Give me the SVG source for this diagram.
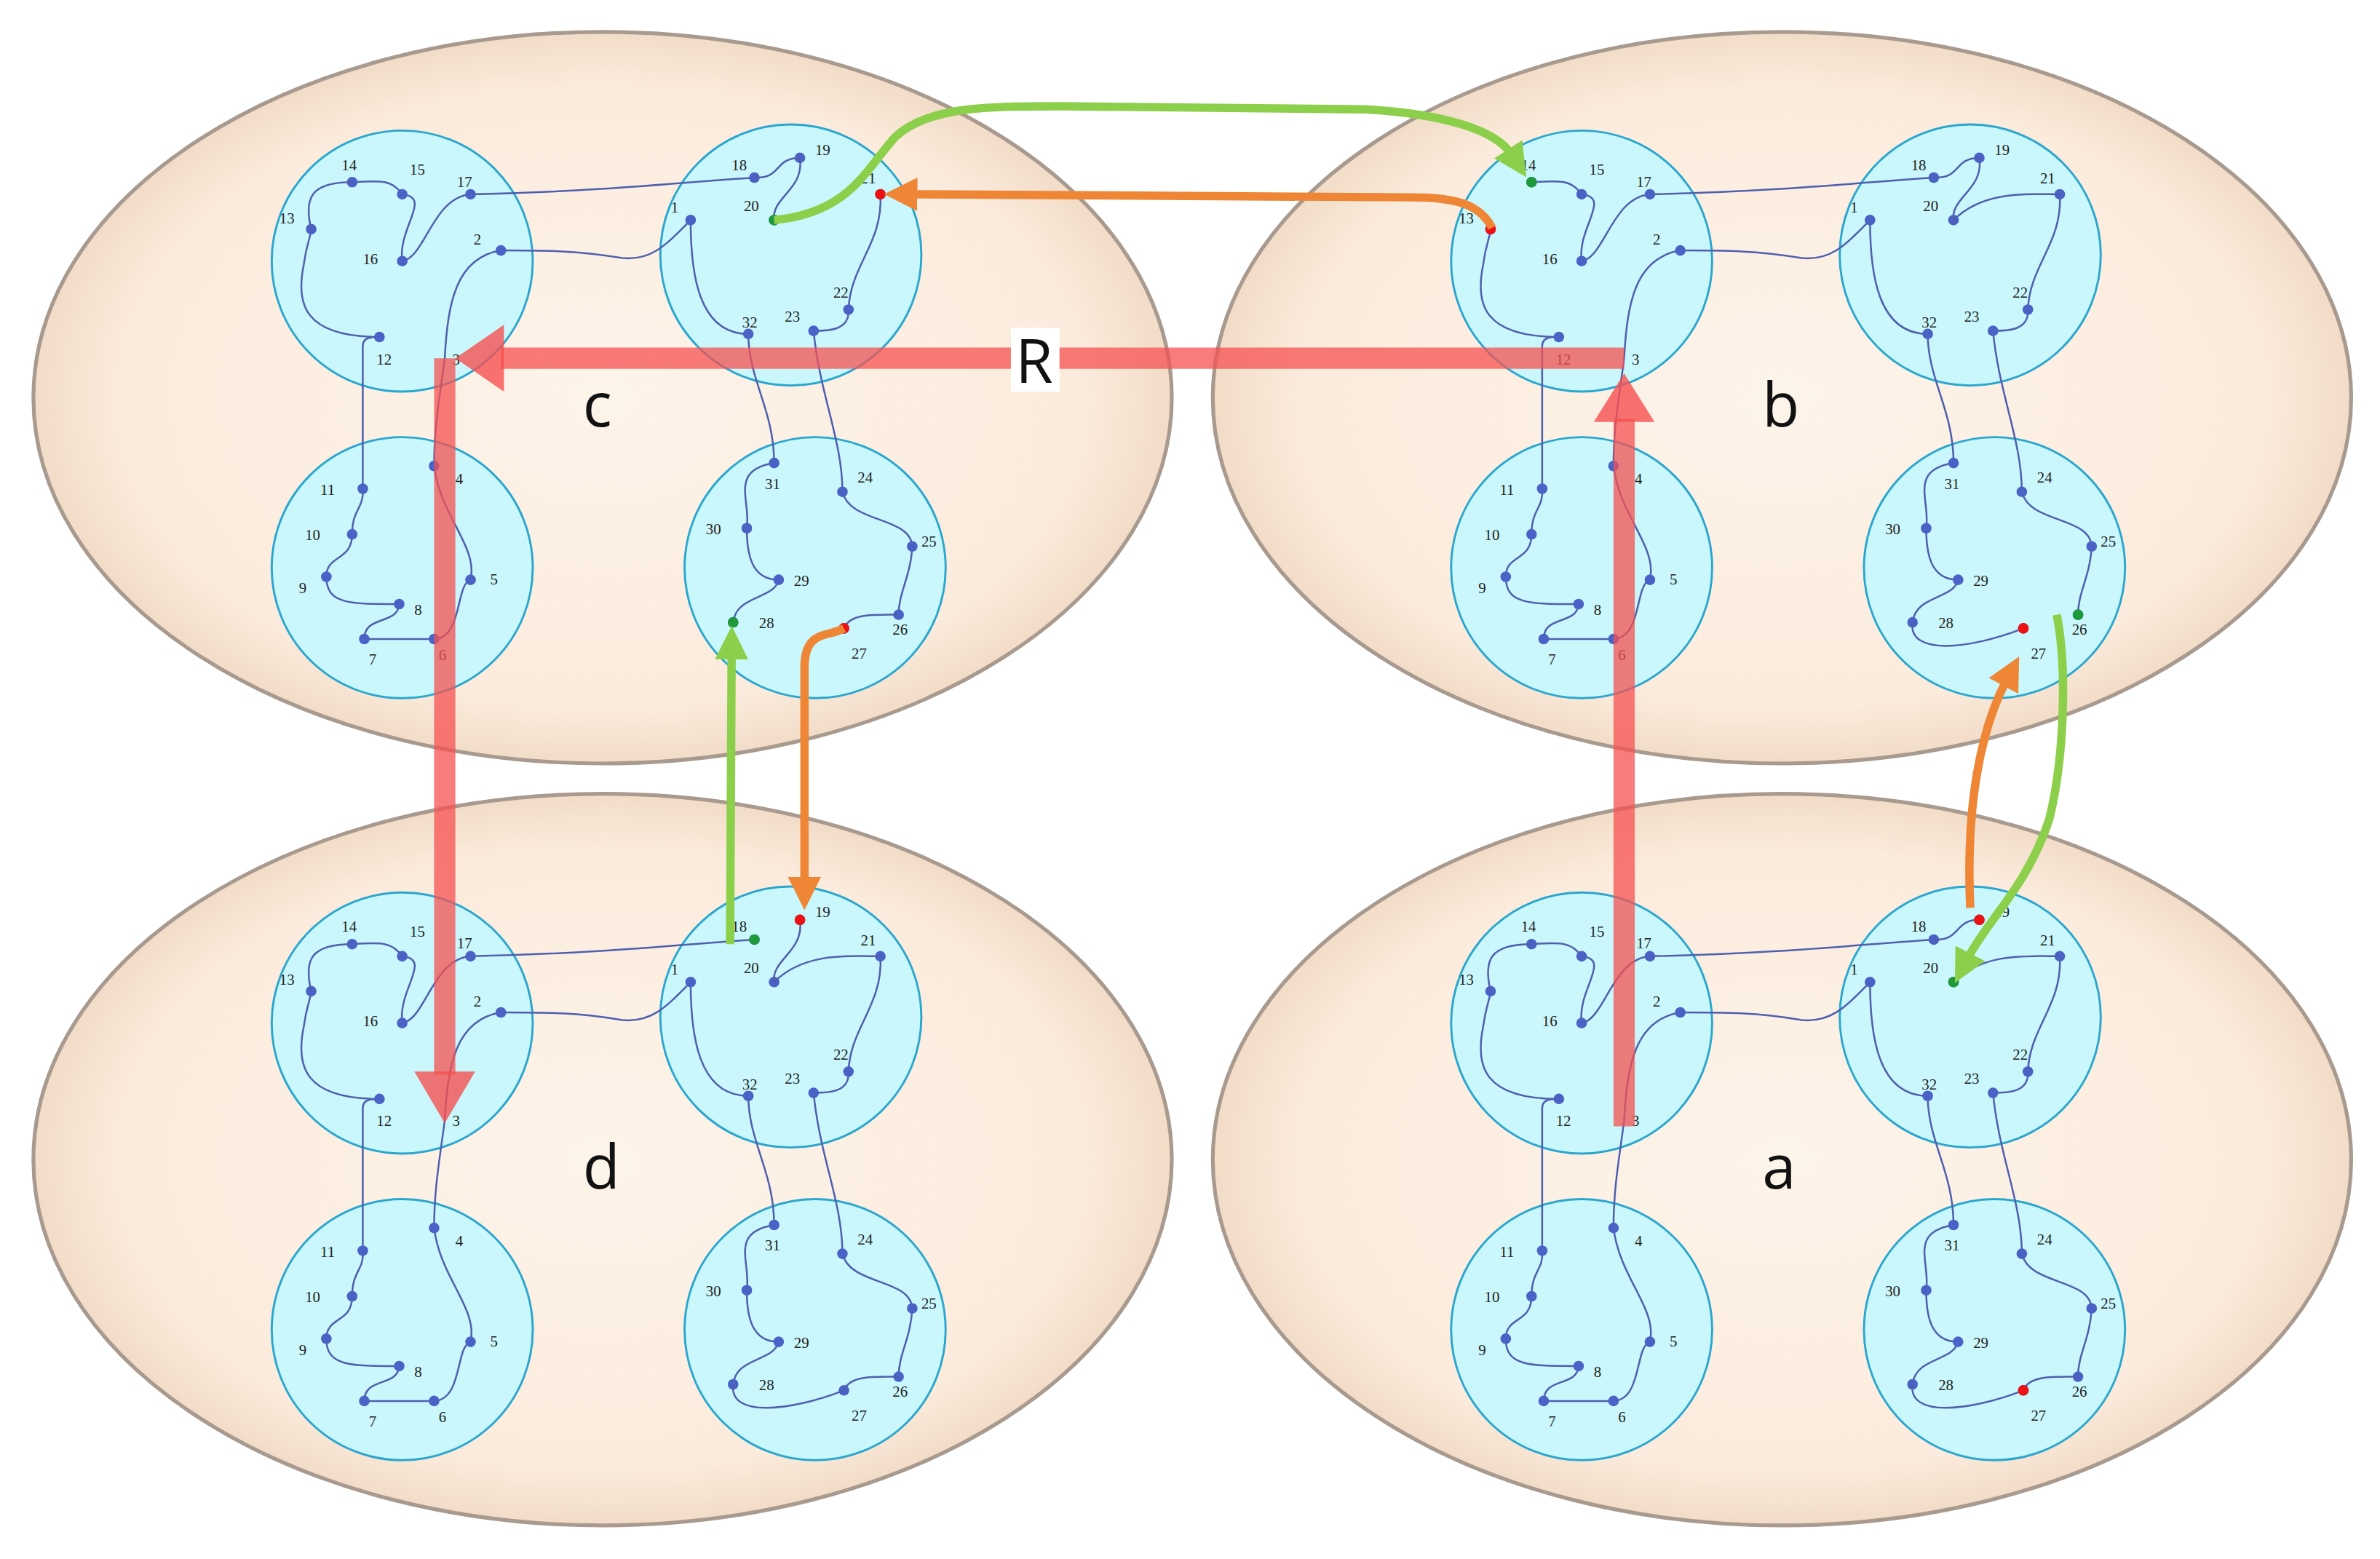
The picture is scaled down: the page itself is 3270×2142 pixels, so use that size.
<svg xmlns="http://www.w3.org/2000/svg" xmlns:xlink="http://www.w3.org/1999/xlink" width="3270" height="2142" viewBox="0 0 3270 2142">
<style>
.ell{fill:url(#eg);stroke:#a89a8e;stroke-width:2.5}
.cir{fill:#c9f7fc;stroke:#2ba6cf;stroke-width:1.4}
.lk{fill:none;stroke:#4f5fae;stroke-width:1.2}
.dot{fill:#4a62c6}
.g{fill:#1f9a3a}.r{fill:#ee1111}
.nl{font-family:"Liberation Serif",serif;font-size:10px;fill:#222}
.ql{font-family:"Open Sans","DejaVu Sans",sans-serif;font-size:40px;fill:#111}
.ga{fill:none;stroke:#8ccf4a;stroke-width:5.5}
.oa{fill:none;stroke:#ee8636;stroke-width:5.5}
.ra{fill:none;stroke:#f65050;stroke-width:14;stroke-opacity:0.75}
</style>
<defs>
<radialGradient id="eg" cx="0.5" cy="0.5" r="0.5">
<stop offset="0" stop-color="#fdf4ea"/><stop offset="0.85" stop-color="#fbebdc"/><stop offset="1" stop-color="#f2dcc8"/>
</radialGradient>
<g id="base">
<ellipse class="ell" cx="397" cy="262" rx="375" ry="241"/>
<circle class="cir" cx="265" cy="172" r="86"/><circle class="cir" cx="521" cy="168" r="86"/>
<circle class="cir" cx="265" cy="374" r="86"/><circle class="cir" cx="537" cy="374" r="86"/>
<g class="lk">
<path d="M232,120 C250,119 258,118 265,128"/>
<path d="M265,128 C285,130 262,150 265,172"/>
<path d="M265,172 C280,170 285,130 310,128"/>
<path d="M310,128 C400,126 450,120 497,117"/>
<path d="M580,128 C582,160 560,175 559,204"/>
<path d="M559,204 C560,218 545,218 536,218"/>
<path d="M536,218 C540,260 555,290 555,324"/>
<path d="M555,324 C560,345 600,340 601,360"/>
<path d="M601,360 C600,380 592,390 592,405"/>
<path d="M483,410 C485,392 510,395 513,382"/>
<path d="M513,382 C495,382 492,365 492,348"/>
<path d="M492,348 C495,330 480,310 510,305"/>
<path d="M510,305 C510,270 493,250 493,220"/>
<path d="M493,220 C460,220 455,180 455,145"/>
<path d="M455,145 C440,160 430,172 410,170 C380,165 360,165 330,165"/>
<path d="M330,165 C300,170 295,200 293,236"/>
<path d="M293,236 C290,260 286,280 286,307"/>
<path d="M286,307 C290,340 315,360 310,382"/>
<path d="M310,382 C300,385 305,420 286,421"/>
<path d="M286,421 L240,421"/>
<path d="M240,421 C240,405 262,412 263,398"/>
<path d="M263,398 C230,398 215,398 215,380"/>
<path d="M215,380 C215,365 232,370 232,352"/>
<path d="M232,352 C232,335 240,335 239,322"/>
<path d="M239,322 L239,228 C239,222 245,222 250,222"/>
<path d="M250,222 C200,222 195,200 200,175 C202,160 205,155 205,151"/>
</g>
<g class="dot">
<circle cx="455" cy="145" r="3.5"/><circle cx="330" cy="165" r="3.5"/><circle cx="286" cy="307" r="3.5"/><circle cx="310" cy="382" r="3.5"/><circle cx="286" cy="421" r="3.5"/><circle cx="240" cy="421" r="3.5"/><circle cx="263" cy="398" r="3.5"/><circle cx="215" cy="380" r="3.5"/><circle cx="232" cy="352" r="3.5"/><circle cx="239" cy="322" r="3.5"/><circle cx="250" cy="222" r="3.5"/><circle cx="205" cy="151" r="3.5"/><circle cx="232" cy="120" r="3.5"/><circle cx="265" cy="128" r="3.5"/><circle cx="265" cy="172" r="3.5"/><circle cx="310" cy="128" r="3.5"/><circle cx="497" cy="117" r="3.5"/><circle cx="527" cy="104" r="3.5"/><circle cx="510" cy="145" r="3.5"/><circle cx="580" cy="128" r="3.5"/><circle cx="559" cy="204" r="3.5"/><circle cx="536" cy="218" r="3.5"/><circle cx="555" cy="324" r="3.5"/><circle cx="601" cy="360" r="3.5"/><circle cx="592" cy="405" r="3.5"/><circle cx="556" cy="414" r="3.5"/><circle cx="483" cy="410" r="3.5"/><circle cx="513" cy="382" r="3.5"/><circle cx="492" cy="348" r="3.5"/><circle cx="510" cy="305" r="3.5"/><circle cx="493" cy="220" r="3.5"/>
</g>
<g class="nl">
<text x="442" y="140">1</text><text x="312" y="161">2</text><text x="298" y="240">3</text><text x="300" y="319">4</text><text x="323" y="385">5</text><text x="289" y="435">6</text><text x="243" y="438">7</text><text x="273" y="405">8</text><text x="197" y="391">9</text><text x="201" y="356">10</text><text x="211" y="326">11</text><text x="248" y="240">12</text><text x="184" y="147">13</text><text x="225" y="112">14</text><text x="270" y="115">15</text><text x="239" y="174">16</text><text x="301" y="123">17</text><text x="482" y="112">18</text><text x="537" y="102">19</text><text x="490" y="139">20</text><text x="567" y="121">21</text><text x="549" y="196">22</text><text x="517" y="212">23</text><text x="489" y="216">32</text><text x="565" y="318">24</text><text x="607" y="360">25</text><text x="588" y="418">26</text><text x="561" y="434">27</text><text x="500" y="414">28</text><text x="523" y="386">29</text><text x="465" y="352">30</text><text x="504" y="322">31</text>
</g>
</g>
<marker id="mg" viewBox="0 0 10 10" refX="2" refY="5" markerWidth="4" markerHeight="4" orient="auto"><path d="M0,0 L10,5 L0,10 z" fill="#8ccf4a"/></marker>
<marker id="mo" viewBox="0 0 10 10" refX="2" refY="5" markerWidth="4" markerHeight="4" orient="auto"><path d="M0,0 L10,5 L0,10 z" fill="#ee8636"/></marker>
</defs>
<rect width="3270" height="2142" fill="#ffffff"/>
<g transform="scale(2.0855)">
<g id="quad-c">
<use xlink:href="#base"/>
<g class="lk"><path d="M205,151 C200,130 205,120 232,120"/><path d="M497,117 C515,118 510,104 527,104"/><path d="M527,104 C530,125 508,130 510,145"/><path d="M592,405 C575,405 560,404 556,414"/></g>
<circle class="g" cx="510" cy="145" r="3.5"/><circle class="r" cx="580" cy="128" r="3.5"/><circle class="g" cx="483" cy="410" r="3.5"/><circle class="r" cx="556" cy="414" r="3.5"/>
<text class="ql" x="384" y="281">c</text>
</g>
<g id="quad-b" transform="translate(777,0)">
<use xlink:href="#base"/>
<g class="lk"><path d="M497,117 C515,118 510,104 527,104"/><path d="M527,104 C530,125 508,130 510,145"/><path d="M510,145 C530,125 560,128 580,128"/><path d="M483,410 C480,432 520,428 556,414"/></g>
<circle class="g" cx="232" cy="120" r="3.5"/><circle class="r" cx="205" cy="151" r="3.5"/><circle class="g" cx="592" cy="405" r="3.5"/><circle class="r" cx="556" cy="414" r="3.5"/>
<text class="ql" x="384" y="281">b</text>
</g>
<g id="quad-d" transform="translate(0,502)">
<use xlink:href="#base"/>
<g class="lk"><path d="M205,151 C200,130 205,120 232,120"/><path d="M527,104 C530,125 508,130 510,145"/><path d="M510,145 C530,125 560,128 580,128"/><path d="M483,410 C480,432 520,428 556,414"/><path d="M592,405 C575,405 560,404 556,414"/></g>
<circle class="g" cx="497" cy="117" r="3.5"/><circle class="r" cx="527" cy="104" r="3.5"/>
<text class="ql" x="384" y="281">d</text>
</g>
<g id="quad-a" transform="translate(777,502)">
<use xlink:href="#base"/>
<g class="lk"><path d="M205,151 C200,130 205,120 232,120"/><path d="M497,117 C515,118 510,104 527,104"/><path d="M510,145 C530,125 560,128 580,128"/><path d="M483,410 C480,432 520,428 556,414"/><path d="M592,405 C575,405 560,404 556,414"/></g>
<circle class="r" cx="527" cy="104" r="3.5"/><circle class="g" cx="510" cy="145" r="3.5"/><circle class="r" cx="556" cy="414" r="3.5"/>
<text class="ql" x="384" y="281">a</text>
</g>
<g id="connectors">
<path class="ra" d="M1070,236 L330,236"/>
<polygon points="300,236 332,214 332,258" fill="#f65050" fill-opacity="0.8"/>
<path class="ra" d="M293,236 L293,708"/>
<polygon points="293,740 273,706 313,706" fill="#f65050" fill-opacity="0.8"/>
<path class="ra" d="M1070,742 L1070,276"/>
<polygon points="1070,246 1050,278 1090,278" fill="#f65050" fill-opacity="0.8"/>
<rect x="666" y="216" width="32" height="42" fill="#ffffff"/>
<text class="ql" x="669" y="252">R</text>
<path class="ga" marker-end="url(#mg)" d="M510,145 C560,140 570,112 590,90 C612,70 650,70 700,70 L900,72 C950,75 985,85 996,102"/>
<path class="oa" marker-end="url(#mo)" d="M983,150 C975,135 960,130 930,130 L600,128"/>
<path class="ga" marker-end="url(#mg)" d="M481,622 L482,430"/>
<path class="oa" marker-end="url(#mo)" d="M556,414 C545,420 530,415 530,440 L530,582"/>
<path class="oa" marker-end="url(#mo)" d="M1298,598 C1295,530 1305,480 1322,448"/>
<path class="ga" marker-end="url(#mg)" d="M1355,405 C1362,440 1360,500 1350,540 C1335,585 1310,605 1296,632"/>
</g>
</g>
</svg>
